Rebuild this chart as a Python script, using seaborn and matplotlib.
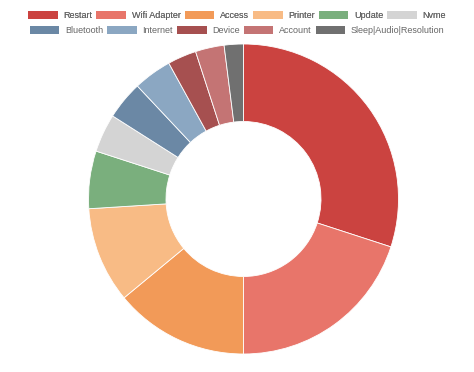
import matplotlib
matplotlib.use("Agg")
import matplotlib.pyplot as plt
import seaborn as sns
from matplotlib.patches import Patch

labels = ["Restart", "Wifi Adapter", "Access", "Printer", "Update", "Nvme",
          "Bluetooth", "Internet", "Device", "Account", "Sleep|Audio|Resolution"]
values = [30, 20, 14, 10, 6, 4, 4, 4, 3, 3, 2]
colors = ["#cb4340", "#e8756a", "#f29a58", "#f8bb85", "#7aaf7d", "#d4d4d4",
          "#6b88a5", "#8ba7c2", "#a65050", "#c47474", "#707070"]

sns.set_theme(style="white")
plt.rcParams["font.family"] = ["Liberation Sans", "DejaVu Sans"]

fig = plt.figure(figsize=(4.74, 3.72), dpi=100)
ax = fig.add_axes([(243.5 - 155) / 474, 18 / 372, 310 / 474, 310 / 372])
ax.pie(values, colors=colors, startangle=90, counterclock=False, radius=1,
       wedgeprops=dict(width=0.5, edgecolor="white", linewidth=0.6))
ax.set_xlim(-1, 1)
ax.set_ylim(-1, 1)
ax.set_aspect("equal")
ax.axis("off")

handles = [Patch(facecolor=c, edgecolor="none") for c in colors]
common = dict(frameon=False, fontsize=6.5, handlelength=3.3, handleheight=0.9,
              handletextpad=0.6, columnspacing=0.45,
              borderaxespad=0, borderpad=0)
leg1 = fig.legend(handles[:6], labels[:6], ncol=6, loc="center",
                  bbox_to_anchor=(0.5, 1 - 15.5 / 372), **common)
fig.add_artist(leg1)
leg2 = fig.legend(handles[6:], labels[6:], ncol=5, loc="center",
                  bbox_to_anchor=(0.5, 1 - 30.5 / 372), **common)
for leg in (leg1, leg2):
    for t in leg.get_texts():
        t.set_color("#666666")

fig.savefig("out.png", dpi=100)
